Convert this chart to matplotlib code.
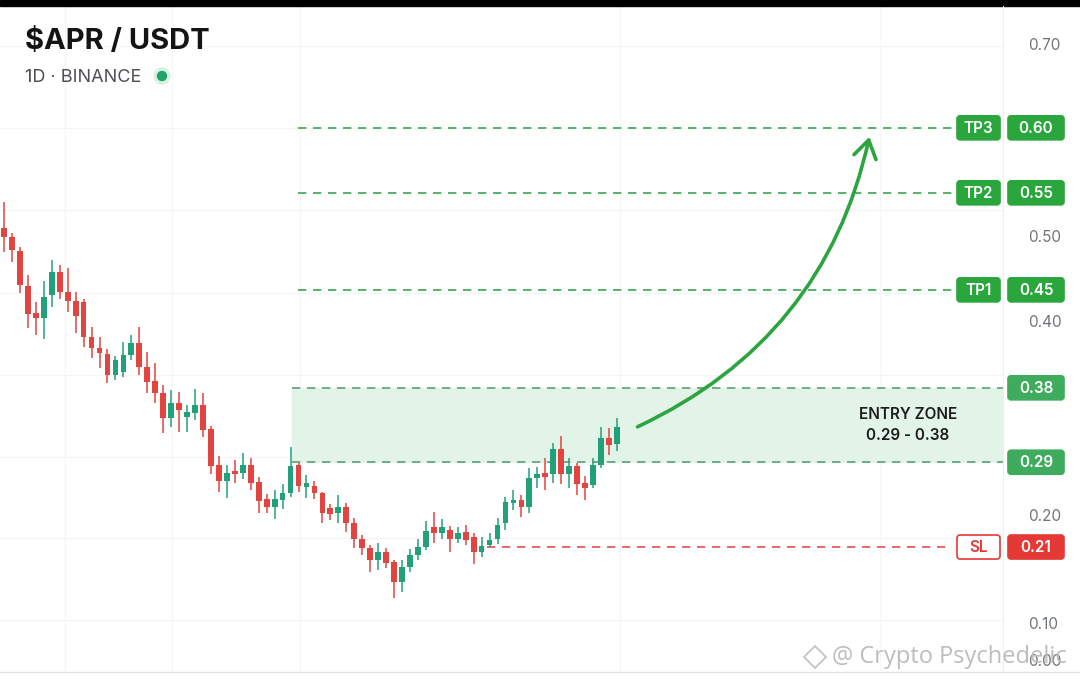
import matplotlib.pyplot as plt
from matplotlib.patches import Rectangle, FancyBboxPatch, FancyArrowPatch, Circle
import numpy as np

# Daily candles (price)
opens = [0.505, 0.495, 0.480, 0.443, 0.414, 0.409, 0.434, 0.458, 0.437, 0.427,
         0.426, 0.389, 0.377, 0.371, 0.349, 0.352, 0.370, 0.383, 0.357, 0.342,
         0.329, 0.303, 0.319, 0.304, 0.308, 0.317, 0.291, 0.253, 0.236, 0.247,
         0.245, 0.253, 0.235, 0.217, 0.209, 0.216, 0.223, 0.253, 0.230, 0.231,
         0.223, 0.207, 0.202, 0.209, 0.192, 0.174, 0.165, 0.152, 0.161, 0.150,
         0.129, 0.145, 0.157, 0.166, 0.187, 0.181, 0.184, 0.174, 0.182, 0.177,
         0.161, 0.168, 0.174, 0.191, 0.213, 0.216, 0.209, 0.239, 0.245, 0.243,
         0.270, 0.243, 0.252, 0.234, 0.232, 0.253, 0.282, 0.275]
highs = [0.532, 0.499, 0.485, 0.455, 0.426, 0.448, 0.471, 0.465, 0.462, 0.437,
         0.429, 0.400, 0.389, 0.376, 0.369, 0.384, 0.391, 0.400, 0.373, 0.361,
         0.338, 0.333, 0.331, 0.317, 0.334, 0.329, 0.294, 0.263, 0.253, 0.258,
         0.266, 0.261, 0.240, 0.222, 0.227, 0.233, 0.272, 0.255, 0.242, 0.236,
         0.224, 0.212, 0.221, 0.213, 0.197, 0.179, 0.168, 0.170, 0.165, 0.152,
         0.152, 0.164, 0.175, 0.194, 0.203, 0.196, 0.188, 0.187, 0.189, 0.181,
         0.177, 0.181, 0.197, 0.219, 0.227, 0.221, 0.250, 0.251, 0.261, 0.276,
         0.284, 0.261, 0.255, 0.241, 0.261, 0.293, 0.292, 0.303]
lows = [0.479, 0.469, 0.436, 0.399, 0.391, 0.387, 0.421, 0.429, 0.416, 0.393,
        0.378, 0.367, 0.356, 0.340, 0.343, 0.347, 0.365, 0.349, 0.329, 0.319,
        0.287, 0.293, 0.288, 0.288, 0.301, 0.283, 0.243, 0.224, 0.218, 0.234,
        0.238, 0.227, 0.202, 0.202, 0.196, 0.206, 0.219, 0.224, 0.218, 0.217,
        0.191, 0.195, 0.191, 0.182, 0.165, 0.157, 0.139, 0.142, 0.144, 0.112,
        0.118, 0.139, 0.152, 0.163, 0.170, 0.174, 0.161, 0.170, 0.168, 0.148,
        0.155, 0.166, 0.169, 0.184, 0.205, 0.198, 0.202, 0.229, 0.227, 0.234,
        0.233, 0.229, 0.221, 0.216, 0.229, 0.250, 0.264, 0.268]
closes = [0.495, 0.481, 0.444, 0.413, 0.409, 0.431, 0.458, 0.437, 0.427, 0.411,
          0.389, 0.377, 0.372, 0.349, 0.365, 0.370, 0.383, 0.357, 0.341, 0.329,
          0.303, 0.319, 0.311, 0.309, 0.317, 0.290, 0.252, 0.236, 0.245, 0.243,
          0.253, 0.234, 0.215, 0.209, 0.217, 0.223, 0.252, 0.231, 0.234, 0.223,
          0.202, 0.201, 0.209, 0.192, 0.174, 0.165, 0.152, 0.161, 0.149, 0.129,
          0.145, 0.157, 0.166, 0.183, 0.181, 0.187, 0.174, 0.181, 0.173, 0.161,
          0.167, 0.173, 0.189, 0.214, 0.216, 0.208, 0.239, 0.243, 0.240, 0.270,
          0.243, 0.252, 0.233, 0.229, 0.253, 0.282, 0.274, 0.293]

# right axis labels (as printed on the chart)
tick_values = [0.700, 0.496, 0.406, 0.342, 0.200, 0.085, 0.046]
tick_labels = ["0.70", "0.50", "0.40", "0.30", "0.20", "0.10", "0.00"]

# trade levels: where the lines sit, and what the tags say
tp_names = ["TP3", "TP2", "TP1"]
tp_lines = [0.611, 0.542, 0.439]
tp_labels = ["0.60", "0.55", "0.45"]
entry_lines = [0.335, 0.256]
entry_labels = ["0.38", "0.29"]
sl_line = 0.166
sl_label = "0.21"

W, H = 1080, 681
GREEN_C = "#22a079"
RED_C = "#e2443f"
TAG_GREEN = "#2aa63d"
ENTRY_GREEN = "#3eac5c"
SL_RED = "#e53935"

fig = plt.figure(figsize=(W / 100, H / 100), dpi=100)
fig.patch.set_facecolor("white")

# main chart area: pixels x 0..1003, y 6..672
top_px, bot_px, right_px = 6, 672, 1003
ax = fig.add_axes([0, (H - bot_px) / H, right_px / W, (bot_px - top_px) / H])
ax.set_facecolor("white")


def px_x(px):
    return (px - 4) / 7.96


def px_price(py):
    return 0.7467 - py / 942


ax.set_xlim(px_x(0), px_x(right_px))
ax.set_ylim(px_price(bot_px), px_price(top_px))
for s in ax.spines.values():
    s.set_visible(False)
ax.set_xticks([])

# faint grid
for py in [46, 128, 210, 293, 375, 457, 538, 620]:
    ax.axhline(px_price(py), color="#f4f4f4", lw=0.8, zorder=0)
for px in [65, 172, 300, 620, 880]:
    ax.axvline(px_x(px), color="#f6f6f6", lw=0.8, zorder=0)

ax.yaxis.tick_right()
ax.set_yticks(tick_values)
ax.set_yticklabels(tick_labels)
ax.tick_params(axis="y", length=0, pad=18, labelsize=11, labelcolor="#70757a")
for lbl in ax.get_yticklabels():
    lbl.set_fontfamily("Inter")

# candles
idx = np.arange(len(opens))
o = np.array(opens)
c = np.array(closes)
up = c >= o
cols = np.where(up, GREEN_C, RED_C)
ax.vlines(idx, lows, highs, colors=cols, lw=1.1, zorder=3)
body_low = np.minimum(o, c)
body_h = np.maximum(np.abs(c - o), 0.002)
ax.bar(idx, body_h, bottom=body_low, width=0.72, color=cols, zorder=4)

# entry zone
ax.add_patch(Rectangle((px_x(292), entry_lines[1]), px_x(right_px) - px_x(292),
                       entry_lines[0] - entry_lines[1], color="#e2f4e8", zorder=1))
for y in entry_lines:
    ax.plot([px_x(292), px_x(right_px)], [y, y], color="#5f9e78", lw=1.2,
            dashes=(5, 4), zorder=2)
for y in tp_lines:
    ax.plot([px_x(298), px_x(952)], [y, y], color="#3aa552", lw=1.2,
            dashes=(5, 4), zorder=2)
ax.plot([px_x(487), px_x(952)], [sl_line, sl_line], color="#e0504f", lw=1.2,
        dashes=(5, 4), zorder=2)
ax.text(px_x(908), (entry_lines[0] + entry_lines[1]) / 2, "ENTRY ZONE\n0.29 - 0.38",
        ha="center", va="center", fontsize=11, fontweight="semibold",
        color="#1c1c1c", family="Inter", linespacing=1.5, zorder=5)

# trend arrow
arrow = FancyArrowPatch((px_x(635), px_price(428)), (px_x(870), px_price(134)),
                        connectionstyle="arc3,rad=0.25",
                        arrowstyle="->,head_length=0.7,head_width=0.45",
                        mutation_scale=18, lw=2.6, color="#2ca43f", zorder=6)
ax.add_patch(arrow)

# overlay in pixel coordinates for tags and headings
ov = fig.add_axes([0, 0, 1, 1], zorder=10)
ov.set_xlim(0, W)
ov.set_ylim(H, 0)
ov.axis("off")
ov.patch.set_visible(False)

fig.canvas.draw()


def price_py(v):
    return H - ax.transData.transform((0, v))[1]


def tag(x0, x1, py, text, fc, tc="white", ec=None):
    ov.add_patch(FancyBboxPatch((x0, py - 12), x1 - x0, 24,
                                boxstyle="round,pad=0,rounding_size=3",
                                fc=fc, ec=ec if ec else fc, lw=1.2))
    ov.text((x0 + x1) / 2, py + 0.5, text, ha="center", va="center", color=tc,
            fontsize=11, fontweight="semibold", family="Inter")


for name, y, lab in zip(tp_names, tp_lines, tp_labels):
    py = price_py(y)
    tag(957, 1000, py, name, TAG_GREEN)
    tag(1008, 1064, py, lab, TAG_GREEN)
for y, lab in zip(entry_lines, entry_labels):
    tag(1008, 1064, price_py(y), lab, ENTRY_GREEN)
py = price_py(sl_line)
tag(957, 1000, py, "SL", "white", tc=SL_RED, ec=SL_RED)
tag(1008, 1064, py, sl_label, SL_RED)

# frame lines
ov.plot([0, W], [bot_px, bot_px], color="#e3e3e3", lw=1)
ov.plot([right_px, right_px], [top_px, bot_px], color="#f0f0f0", lw=0.8)
ov.add_patch(Rectangle((0, 0), W, 6, color="black"))

# headings
ov.text(25, 41, "\\$APR / USDT", fontsize=21, fontweight="bold", color="#141414",
        family="Inter", va="center", ha="left")
ov.text(25, 77, "1D · BINANCE", fontsize=13, color="#4d4f55", family="Inter",
        va="center", ha="left")
ov.add_patch(Circle((162, 76), 8, color="#d9f1e3"))
ov.add_patch(Circle((162, 76), 4.5, color="#1fa56b"))

# watermark
ov.plot([815], [657], marker="D", ms=11, mfc="none", mec="#c4c4c4", mew=1.3)
ov.text(832, 657, "@ Crypto Psychedelic", fontsize=17, color="#bdbdbd",
        family="Open Sans", va="center", ha="left")

fig.savefig("out.png", dpi=100)
